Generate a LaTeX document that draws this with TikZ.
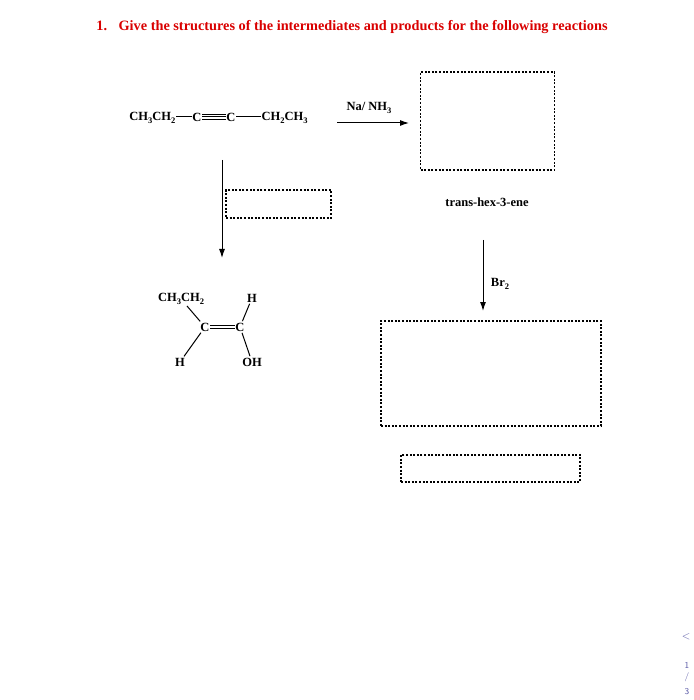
\documentclass[tikz,border=0pt]{standalone}
\usepackage{fontspec}
\setmainfont{Liberation Serif}
\usetikzlibrary{arrows.meta}
\newcommand{\sbs}[1]{\raisebox{-0.45ex}{\fontsize{8.5}{9}\selectfont #1}}
\begin{document}
\begin{tikzpicture}[x=1pt,y=-1pt,
  t/.style={font=\bfseries\fontsize{12.5}{14}\selectfont,inner sep=0.5pt},
  box/.style={draw,dash pattern=on 2pt off 1.6pt,line width=1.1pt},
  arr/.style={-{Latex[length=9pt,width=6pt]},line width=1pt},
  bond/.style={line width=1pt}]
\useasboundingbox (0,0) rectangle (693,700);
\node[t,text=red!85!black,font=\bfseries\fontsize{14.3}{16}\selectfont] (title) at (352,27) {1.\hspace{0.8em}Give the structures of the intermediates and products for the following reactions};
% alkyne
\node[t,anchor=east] (a1) at (176,118) {CH\sbs{3}CH\sbs{2}};
\node[t] (c1) at (197,117) {C};
\node[t] (c2) at (231,117) {C};
\node[t,anchor=west] (a2) at (261,118) {CH\sbs{2}CH\sbs{3}};
\draw[bond] (a1.east|-c1.west) -- (c1.west);
\draw[bond] (c1.east) -- (c2.west);
\draw[bond] ([yshift=-2.5pt]c1.east) -- ([yshift=-2.5pt]c2.west);
\draw[bond] ([yshift=2.5pt]c1.east) -- ([yshift=2.5pt]c2.west);
\draw[bond] (c2.east) -- (a2.west|-c2.east);
% Na/NH3
\coordinate (r1s) at (337,123);
\coordinate (r1e) at (409,123);
\draw[arr] (r1s) -- (r1e);
\node[t] (na) at (369,108) {Na/ NH\sbs{3}};
\node[box,minimum width=134pt,minimum height=98pt] (b1) at (487.5,121) {};
\node[t] (trans) at (487,202) {trans-hex-3-ene};
% vertical arrow left
\coordinate (v1s) at (222,160);
\coordinate (v1e) at (222,258);
\draw[arr] (v1s) -- (v1e);
\node[box,minimum width=105pt,minimum height=28pt] (b2) at (278.5,204) {};
% enol
\node[t] (e1) at (181,299) {CH\sbs{3}CH\sbs{2}};
\node[t] (e2) at (252,298) {H};
\node[t] (e3) at (205,327) {C};
\node[t] (e4) at (240,327) {C};
\node[t] (e5) at (180,362) {H};
\node[t] (e6) at (252,362) {OH};
\draw[bond,shorten <=1pt,shorten >=1pt] (e1) -- (e3);
\draw[bond,shorten <=1pt,shorten >=1pt] (e2) -- (e4);
\draw[bond,shorten <=1pt,shorten >=1pt] (e5) -- (e3);
\draw[bond,shorten <=1pt,shorten >=1pt] (e6) -- (e4);
\draw[bond] ([yshift=-1.8pt]e3.east) -- ([yshift=-1.8pt]e4.west);
\draw[bond] ([yshift=1.8pt]e3.east) -- ([yshift=1.8pt]e4.west);
% Br2
\coordinate (v2s) at (483,240);
\coordinate (v2e) at (483,311);
\draw[arr] (v2s) -- (v2e);
\node[t] (br) at (500,284) {Br\sbs{2}};
\node[box,minimum width=220pt,minimum height=105pt] (b3) at (491,373.5) {};
\node[box,minimum width=179pt,minimum height=27pt] (b4) at (490.5,468.5) {};
% corner UI
\node[text=blue!30!gray,font=\fontsize{11}{11}\selectfont\sffamily] (u1) at (686,637) {$<$};
\node[text=blue!30!gray,font=\fontsize{9}{9}\selectfont\sffamily] (u2) at (687,665) {1};
\node[text=blue!30!gray,font=\fontsize{9}{9}\selectfont\sffamily] (u3) at (687,677) {/};
\node[text=blue!30!gray,font=\fontsize{9}{9}\selectfont\sffamily] (u4) at (687,692) {3};
\end{tikzpicture}
\end{document}
